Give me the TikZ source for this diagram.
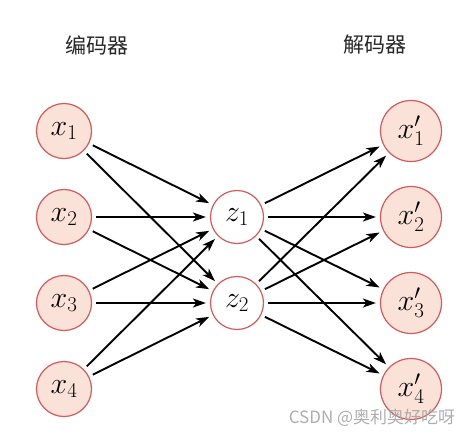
\RequirePackage{fix-cm}
\documentclass[tikz,border=0pt]{standalone}
\usepackage{fontspec}
\newfontfamily\cjk{Noto Sans CJK SC}
\usetikzlibrary{arrows.meta}
\definecolor{nodefill}{RGB}{250,226,216}
\definecolor{nodeborder}{RGB}{214,90,90}
\definecolor{wmgray}{RGB}{165,165,165}
\begin{document}
\begin{tikzpicture}[x=1pt,y=-1pt,
  inp/.style={circle,draw=nodeborder,fill=nodefill,line width=1.2pt,minimum size=55pt,inner sep=0pt,font=\fontsize{30}{34}\selectfont},
  outp/.style={inp,minimum size=61pt},
  hid/.style={circle,draw=nodeborder,fill=white,line width=1.2pt,minimum size=53pt,inner sep=0pt,font=\fontsize{30}{34}\selectfont},
  conn/.style={line width=1.9pt,black,-{Stealth[length=13pt,width=9pt,inset=3.5pt]},shorten >=4pt,shorten <=4pt},
  title/.style={font=\cjk\fontsize{21}{24}\selectfont,text=black!85}
]
\useasboundingbox (0,0) rectangle (474,437);
\node[title] (enc) at (97,45) {编码器};
\node[title] (dec) at (375,45) {解码器};
\node[inp] (x1) at (64,131) {$x_1$};
\node[inp] (x2) at (64,217) {$x_2$};
\node[inp] (x3) at (64,303) {$x_3$};
\node[inp] (x4) at (64,389) {$x_4$};
\node[hid] (z1) at (237,217) {$z_1$};
\node[hid] (z2) at (237,303) {$z_2$};
\node[outp] (y1) at (411,131) {$x'_1$};
\node[outp] (y2) at (411,217) {$x'_2$};
\node[outp] (y3) at (411,303) {$x'_3$};
\node[outp] (y4) at (411,389) {$x'_4$};
\foreach \i in {1,2,3,4}{
  \draw[conn] (x\i) -- (z1);
  \draw[conn] (x\i) -- (z2);
  \draw[conn] (z1) -- (y\i);
  \draw[conn] (z2) -- (y\i);
}
\node[font=\cjk\fontsize{17}{19}\selectfont,text=wmgray,opacity=0.9] (wm) at (372,418) {CSDN @奥利奥好吃呀};
\end{tikzpicture}
\end{document}
